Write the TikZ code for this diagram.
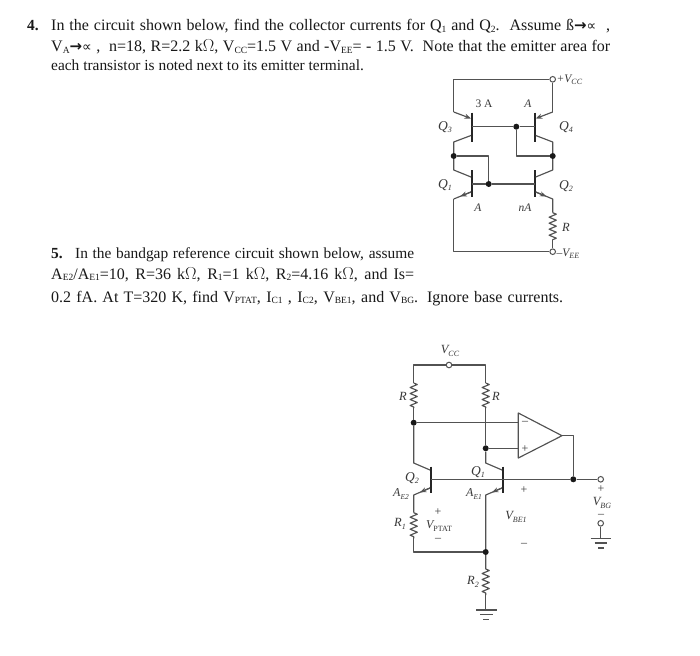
\documentclass[tikz,border=0pt]{standalone}
\usepackage{fontspec}
\setmainfont{Liberation Serif}
\newfontfamily\djv{DejaVu Sans}
\usetikzlibrary{decorations.pathmorphing,arrows.meta,calc}
\newcommand{\sbs}[1]{\raisebox{-0.25ex}{\fontsize{9.5}{10}\selectfont #1}}
\newcommand{\sbc}[1]{\raisebox{-0.4ex}{\fontsize{8}{8}\selectfont #1}}
\newcommand{\arr}{{\djv\fontsize{15}{15}\selectfont\bfseries →}}
\newcommand{\inft}{{\djv\fontsize{13.5}{14}\selectfont ∝}}
\newcommand{\fitline}[2]{\makebox[#1pt][s]{#2}}
\tikzset{
  x=1pt,y=-1pt,
  wire/.style={draw=black!68,line width=1.15pt,line join=round},
  bar/.style={draw=black!85,line width=2.4pt},
  res/.style={wire,decorate,decoration={zigzag,segment length=6pt,amplitude=3.6pt}},
  dot/.style={circle,fill=black!90,inner sep=0pt,minimum size=6pt},
  term/.style={circle,draw=black!68,fill=white,line width=1pt,inner sep=0pt,minimum size=5.6pt},
  txt/.style={anchor=base west,inner sep=0pt,font=\fontsize{15.4}{16}\selectfont,text=black!90},
  txtw/.style={txt,font=\fontsize{16}{17}\selectfont},
  lab/.style={inner sep=0pt,font=\fontsize{11.5}{12}\selectfont\itshape,text=black!78},
  labq/.style={lab,font=\fontsize{13.5}{14}\selectfont\itshape},
  labr/.style={lab,font=\fontsize{12.5}{13}\selectfont\itshape},
  sgn/.style={lab,font=\fontsize{12}{12}\selectfont\upshape},
  emo/.style={wire,-{Stealth[length=6.5pt,width=5pt]}},
  gnd/.style={wire,line width=1.4pt},
}
\begin{document}
\begin{tikzpicture}
\useasboundingbox[fill=white] (0,0) rectangle (700,655);
% text
\node[txt] (t1a) at (27,31) {\textbf{4.}};
\node[txtw] (t1) at (51,31) {\fitline{559}{In the circuit shown below, find the collector currents for Q\sbs{1} and Q\sbs{2}.\ \ Assume ß\arr\inft\ \ ,}};
\node[txtw] (t2) at (51,52) {\fitline{559}{V\sbs{A}\arr\inft\ ,\ \ n=18, R=2.2 k$\Omega$, V\sbs{CC}=1.5 V and -V\sbs{EE}= - 1.5 V.\ \ Note that the emitter area for}};
\node[txt] (t3) at (51,71) {each transistor is noted next to its emitter terminal.};
\node[txt] (t4a) at (51,258) {\textbf{5.}};
\node[txt] (t4) at (75,258) {\fitline{339}{In the bandgap reference circuit shown below, assume}};
\node[txtw] (t5) at (51,279) {\fitline{363}{A\sbs{E2}/A\sbs{E1}=10, R=36 k$\Omega$, R\sbs{1}=1 k$\Omega$, R\sbs{2}=4.16 k$\Omega$, and Is=}};
\node[txtw] (t6) at (51,302) {\fitline{512}{0.2 fA. At T=320 K, find V\sbs{PTAT}, I\sbs{C1} , I\sbs{C2}, V\sbs{BE1}, and V\sbs{BG}. Ignore base currents.}};

% circuit 1
\node[term] (vcc) at (552.7,79.3) {};
\node[term] (vee) at (552.7,251.7) {};
\coordinate (tl) at (453.7,79.3);
\coordinate (bl) at (453.7,251.7);
\node[dot] (dl) at (453.7,156) {};
\node[dot] (dr) at (552.7,156) {};
\node[dot] (db34) at (516.3,126.7) {};
\node[dot] (db12) at (488.7,184) {};
\coordinate (k1) at (488.7,156);
\coordinate (k2) at (516.3,156);
\coordinate (b3) at (471.7,126.7); \coordinate (b4) at (535,126.7);
\coordinate (b1) at (471.7,184); \coordinate (b2) at (535,184);
\draw[bar] (471.7,112.7) -- (471.7,141.7);
\draw[bar] (535,112.7) -- (535,141.7);
\draw[bar] (471.7,170) -- (471.7,197);
\draw[bar] (535,170) -- (535,197);
\coordinate (e3) at (453.7,112); \coordinate (e3b) at (471,118.5);
\coordinate (c3) at (453.7,142); \coordinate (c3b) at (471,135.5);
\coordinate (e4) at (552.7,112); \coordinate (e4b) at (535.7,118.5);
\coordinate (c4) at (552.7,142); \coordinate (c4b) at (535.7,135.5);
\coordinate (c1) at (453.7,170); \coordinate (c1b) at (471,177);
\coordinate (e1) at (453.7,199); \coordinate (e1b) at (471,192);
\coordinate (c2) at (552.7,170); \coordinate (c2b) at (535.7,177);
\coordinate (e2) at (552.7,199); \coordinate (e2b) at (535.7,192);
\coordinate (rt) at (552.7,212.7); \coordinate (rb) at (552.7,240);
\draw[wire] (vcc) -- (tl) -- (e3);
\draw[emo] (e3) -- (e3b);
\draw[wire] (c3b) -- (c3) -- (dl) -- (c1) -- (c1b);
\draw[wire] (vcc) -- (e4);
\draw[emo] (e4) -- (e4b);
\draw[wire] (c4b) -- (c4) -- (dr) -- (c2) -- (c2b);
\draw[wire] (b3) -- (db34) -- (b4);
\draw[wire] (db34) -- (k2) -- (dr);
\draw[wire] (dl) -- (k1) -- (db12);
\draw[wire] (b1) -- (db12) -- (b2);
\draw[wire] (e1b) -- (e1);
\draw[emo] (e1b) -- ($(e1b)!0.62!(e1)$);
\draw[wire] (e1) -- (bl) -- (vee);
\draw[wire] (e2b) -- (e2) -- (rt);
\draw[emo] (e2b) -- ($(e2b)!0.62!(e2)$);
\draw[res] (rt) -- (rb);
\draw[wire] (rb) -- (vee);
\node[lab,anchor=west] (lvcc) at (556.5,80) {+V\sbc{CC}};
\node[lab,anchor=west] (lvee) at (556.5,254) {--V\sbc{EE}};
\node[lab,font=\fontsize{11.5}{12}\selectfont\upshape] (l3a) at (484,104) {3 A};
\node[lab] (la4) at (528,104) {A};
\node[labq] (lq3) at (445,127) {Q\sbc{3}};
\node[labq] (lq4) at (566,127) {Q\sbc{4}};
\node[labq] (lq1) at (445,185) {Q\sbc{1}};
\node[labq] (lq2) at (566,186) {Q\sbc{2}};
\node[lab] (la1) at (478,208) {A};
\node[lab] (lna) at (525,208) {nA};
\node[labr] (lr) at (566,227) {R};

% circuit 2
\node[term] (vcc2) at (449,365) {};
\coordinate (t2l) at (413.7,365); \coordinate (t2r) at (485.7,365);
\coordinate (r1t) at (413.7,383); \coordinate (r1b) at (413.7,408);
\coordinate (r2t) at (485.7,383); \coordinate (r2b) at (485.7,408);
\node[dot] (dm) at (413.7,422.7) {};
\node[dot] (dp) at (485.7,448.3) {};
\coordinate (opa) at (518.3,413); \coordinate (opb) at (518.3,458); \coordinate (opc) at (562,435.7);
\coordinate (inm) at (518.3,422.7); \coordinate (inp) at (518.3,448.3);
\coordinate (oc) at (573.3,435.7);
\node[dot] (dout) at (573.3,479.3) {};
\node[term] (vbgt) at (600.7,479.3) {};
\node[term] (vbgb) at (600.7,523.3) {};
\draw[wire] (opa) -- (opb) -- (opc) -- cycle;
\draw[wire] (r1t) -- (t2l) -- (vcc2) -- (t2r) -- (r2t);
\draw[res] (r1t) -- (r1b);
\draw[res] (r2t) -- (r2b);
\draw[wire] (r1b) -- (dm) -- (inm);
\draw[wire] (r2b) -- (dp) -- (inp);
\draw[wire] (opc) -- (oc) -- (dout);
\coordinate (bq2) at (430.7,479.3); \coordinate (bq1) at (502.7,479.3);
\draw[bar] (430.7,466.7) -- (430.7,492.7);
\draw[bar] (502.7,466.7) -- (502.7,492.7);
\draw[wire] (bq2) -- (bq1) -- (dout) -- (vbgt);
\coordinate (cq2) at (413.7,463); \coordinate (cq2b) at (430,470);
\coordinate (cq1) at (485.7,463); \coordinate (cq1b) at (502,470);
\coordinate (eq2) at (413.7,495); \coordinate (eq2b) at (430,488);
\coordinate (eq1) at (485.7,495); \coordinate (eq1b) at (502,488);
\draw[wire] (dm) -- (cq2) -- (cq2b);
\draw[wire] (dp) -- (cq1) -- (cq1b);
\coordinate (r3t) at (413.7,512.7); \coordinate (r3b) at (413.7,538.3);
\coordinate (j3) at (413.7,552);
\node[dot] (dj) at (485.7,552) {};
\coordinate (r4t) at (485.7,569); \coordinate (r4b) at (485.7,595);
\draw[wire] (eq2b) -- (eq2) -- (r3t);
\draw[emo] (eq2b) -- ($(eq2b)!0.62!(eq2)$);
\draw[res] (r3t) -- (r3b);
\draw[wire] (r3b) -- (j3) -- (dj);
\draw[wire] (eq1b) -- (eq1) -- (dj) -- (r4t);
\draw[emo] (eq1b) -- ($(eq1b)!0.62!(eq1)$);
\draw[res] (r4t) -- (r4b);
\coordinate (g1) at (485.7,610);
\draw[wire] (r4b) -- (g1);
\draw[gnd] (476,610) -- (497,610);
\draw[gnd] (480,614.7) -- (493,614.7);
\draw[gnd,line width=1.7pt] (483,619.5) -- (489,619.5);
\coordinate (g2) at (600.7,538.3);
\draw[wire] (vbgb) -- (g2);
\draw[gnd] (590.7,538.3) -- (610.7,538.3);
\draw[gnd] (594.5,543) -- (607,543);
\draw[gnd,line width=1.7pt] (598,548) -- (604,548);
\node[sgn] (lm) at (525,423) {--};
\node[sgn] (lp) at (525,449) {+};
\node[lab,font=\fontsize{12.5}{13}\selectfont\itshape] (lvcc2) at (450,351) {V\sbc{CC}};
\node[labr] (lr1) at (403,396) {R};
\node[labr] (lr2) at (496,396) {R};
\node[labq] (lq2b) at (412,478) {Q\sbc{2}};
\node[labq] (lq1b) at (478,472) {Q\sbc{1}};
\node[lab,font=\fontsize{12}{12}\selectfont\itshape] (lae2) at (401,494) {A\sbc{\fontsize{7.5}{8}\selectfont E2}};
\node[lab,font=\fontsize{12}{12}\selectfont\itshape] (lae1) at (474,494) {A\sbc{\fontsize{7.5}{8}\selectfont E1}};
\node[sgn] (lpb) at (524,490) {+};
\node[sgn] (lpb2) at (601,489) {+};
\node[sgn] (lpp) at (438,512) {+};
\node[sgn] (lmp) at (438,540) {--};
\node[sgn] (lmb) at (524,545) {--};
\node[sgn] (lmb2) at (601,516) {--};
\node[lab,font=\fontsize{12}{12}\selectfont\itshape] (lvptat) at (439,526) {V\sbc{\upshape PTAT}};
\node[lab,font=\fontsize{12.5}{13}\selectfont\itshape] (lvbe) at (516,517) {V\sbc{BE1}};
\node[lab,font=\fontsize{12.5}{13}\selectfont\itshape] (lvbg) at (602,503) {V\sbc{BG}};
\node[labr] (lr1b) at (400,524) {R\sbc{1}};
\node[labr] (lr2b) at (473,582) {R\sbc{2}};
\end{tikzpicture}
\end{document}
